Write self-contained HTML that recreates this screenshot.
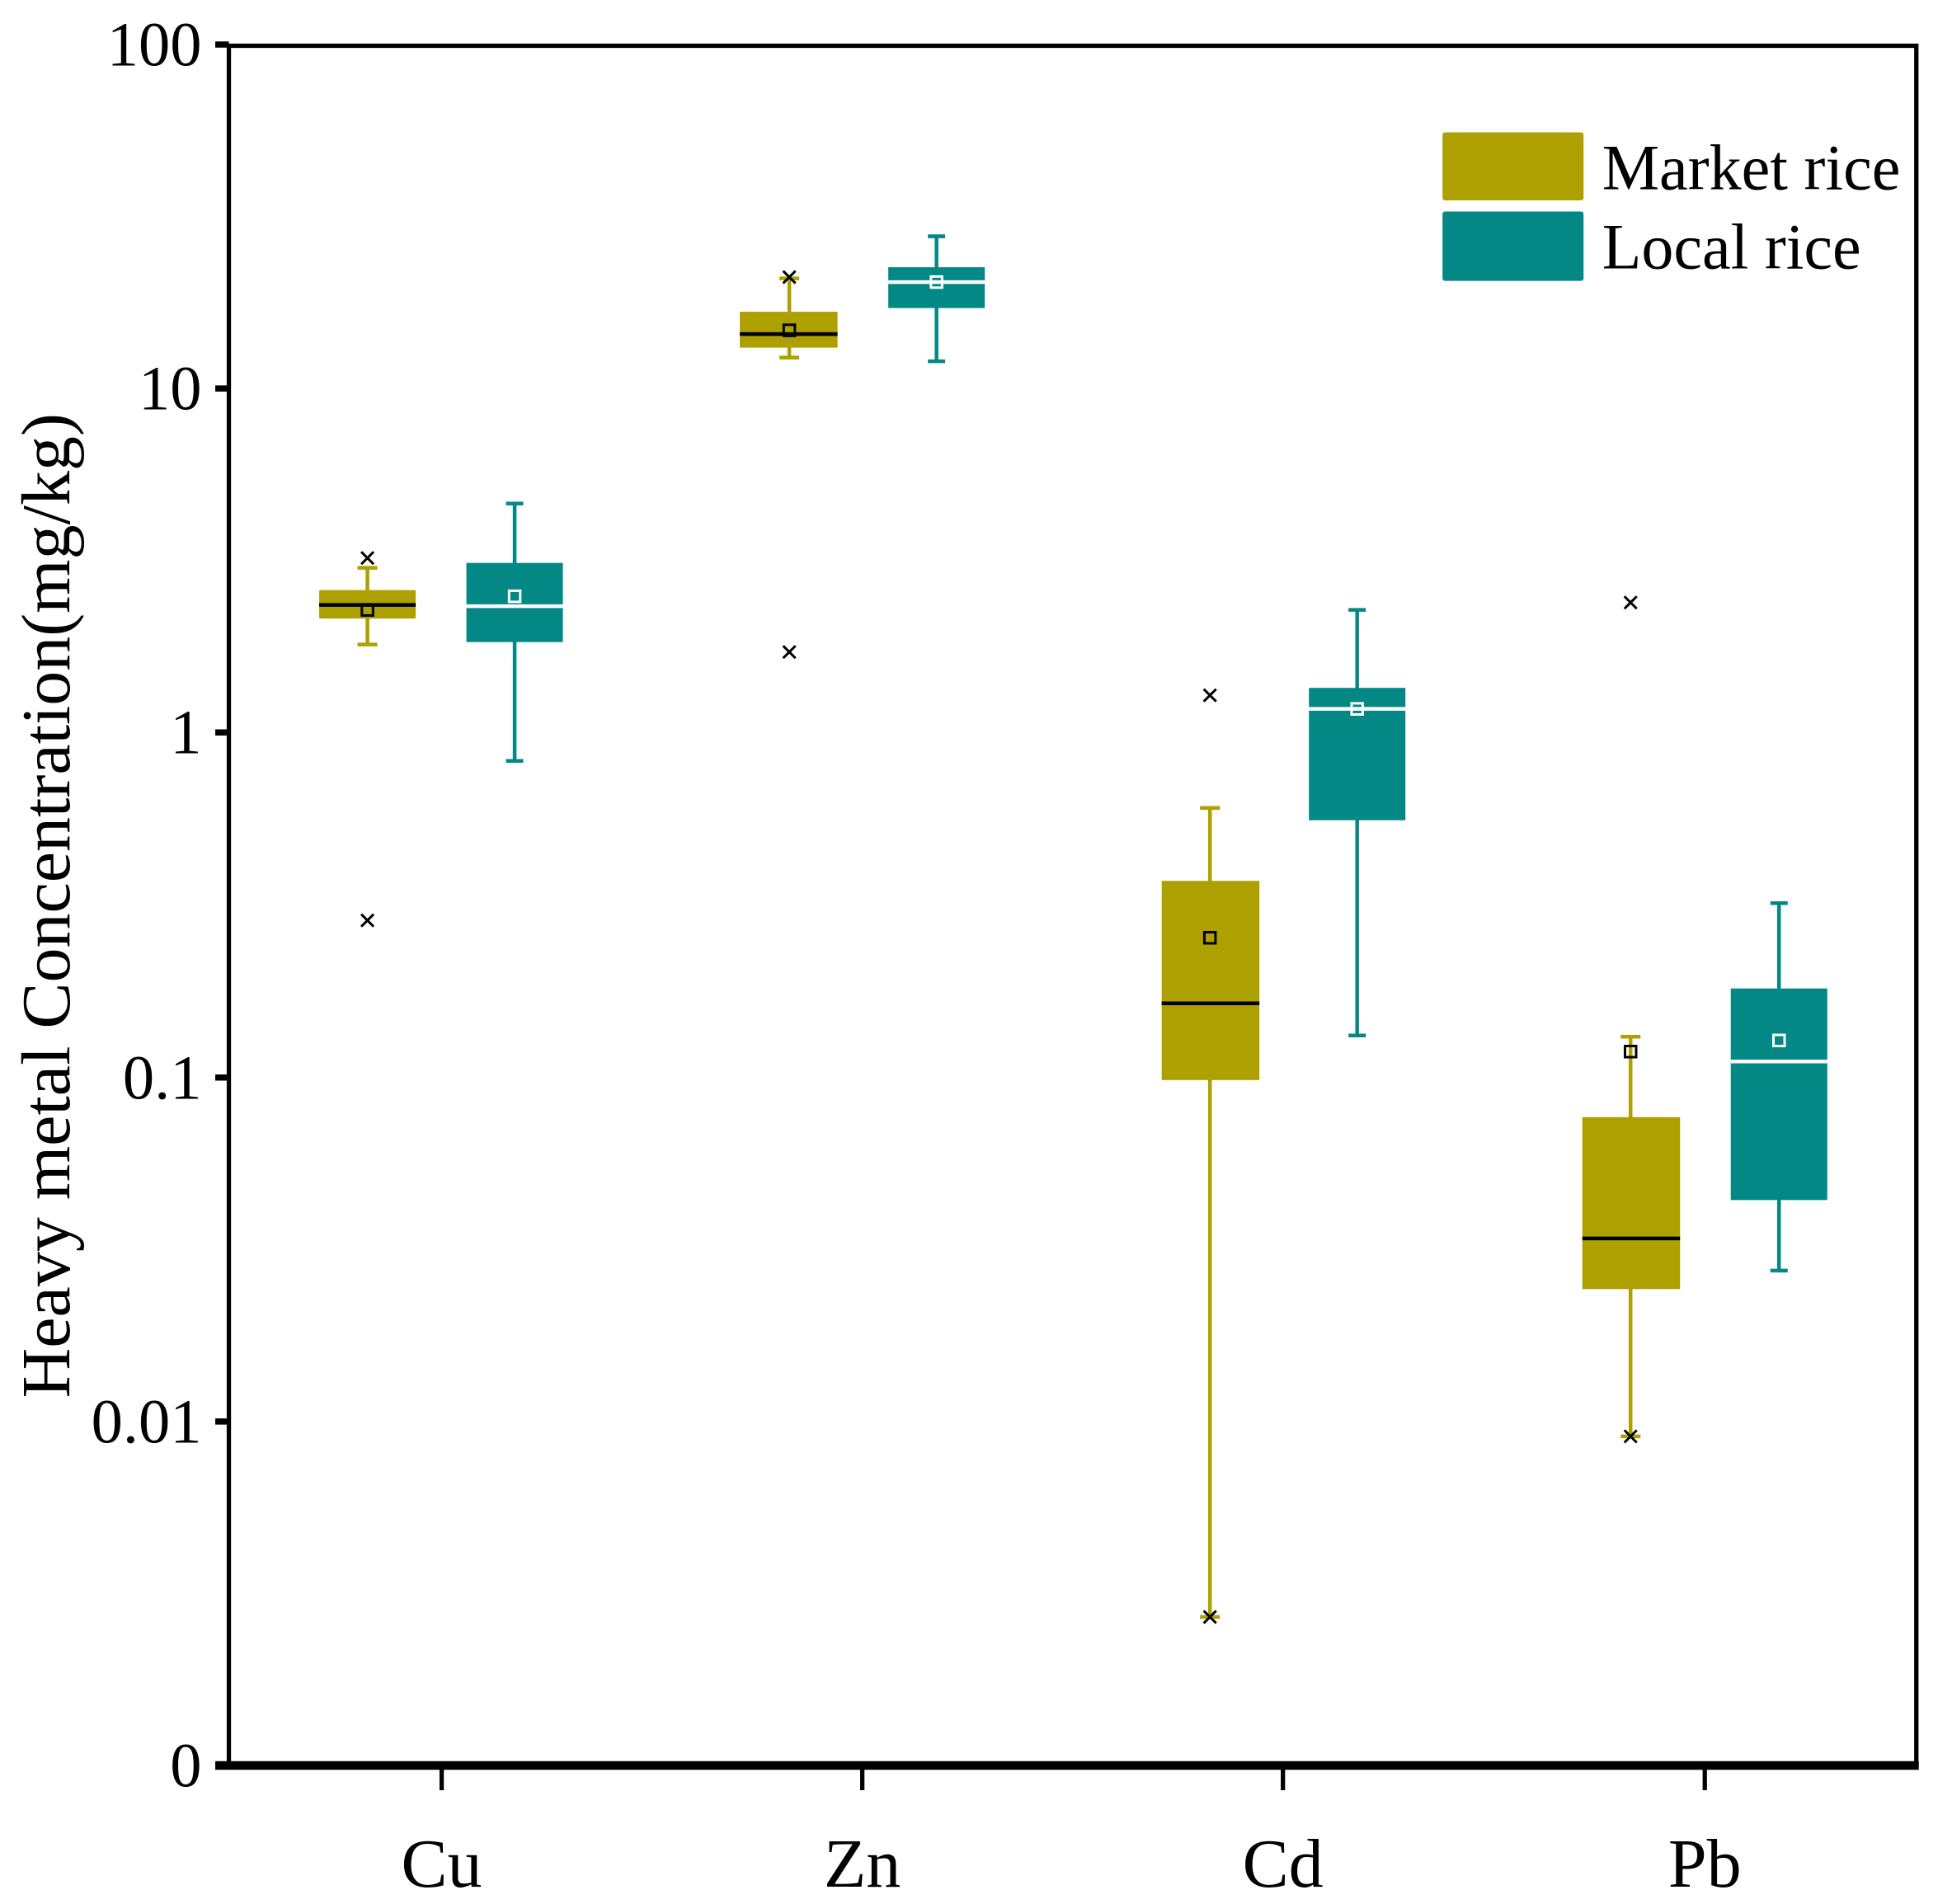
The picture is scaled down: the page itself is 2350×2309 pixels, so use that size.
<!DOCTYPE html>
<html><head><meta charset="utf-8"><style>html,body{margin:0;padding:0;background:#fff}svg{display:block}</style></head>
<body>
<svg width="2350" height="2309" viewBox="0 0 1566.5 1539" preserveAspectRatio="none" xmlns="http://www.w3.org/2000/svg" font-family="Liberation Serif, serif">
<rect width="1567" height="1540" fill="#fff"/>
<!-- frame -->
<rect x="185" y="37" width="1364" height="1389" fill="none" stroke="#000" stroke-width="3.5"/>
<line x1="174" y1="1427" x2="1551" y2="1427" stroke="#000" stroke-width="7"/>
<line x1="174" y1="36" x2="185" y2="36" stroke="#000" stroke-width="5"/>
<g stroke="#000" stroke-width="5">
<line x1="174" y1="314" x2="185" y2="314"/><line x1="174" y1="592" x2="185" y2="592"/>
<line x1="174" y1="871" x2="185" y2="871"/><line x1="174" y1="1149" x2="185" y2="1149"/>
</g>
<g stroke="#000" stroke-width="3.5">
<line x1="357" y1="1427" x2="357" y2="1447"/><line x1="697" y1="1427" x2="697" y2="1447"/>
<line x1="1037" y1="1427" x2="1037" y2="1447"/><line x1="1378" y1="1427" x2="1378" y2="1447"/>
</g>
<g font-size="51" text-anchor="end" fill="#000">
<text x="163" y="53">100</text><text x="163" y="331">10</text><text x="163" y="609">1</text>
<text x="163" y="888">0.1</text><text x="163" y="1166">0.01</text><text x="163" y="1444">0</text>
</g>
<g font-size="56" text-anchor="middle" fill="#000">
<text x="357" y="1525">Cu</text><text x="697" y="1525">Zn</text><text x="1037" y="1525">Cd</text><text x="1378" y="1525">Pb</text>
</g>
<text transform="translate(56,732) rotate(-90)" font-size="56" text-anchor="middle">Heavy metal Concentration(mg/kg)</text>
<!-- legend -->
<rect x="1166" y="107" width="114" height="55" rx="2" fill="#ADA000"/>
<rect x="1166" y="171" width="114" height="56" rx="2" fill="#038886"/>
<text x="1295" y="153" font-size="52">Market rice</text>
<text x="1295" y="217" font-size="52">Local rice</text>

<!-- market boxes -->
<g stroke="#ADA000" stroke-width="3" fill="none">
<line x1="297" y1="459" x2="297" y2="521"/><line x1="289" y1="459" x2="305" y2="459"/><line x1="289" y1="521" x2="305" y2="521"/>
<line x1="638" y1="225" x2="638" y2="289"/><line x1="630" y1="225" x2="646" y2="225"/><line x1="630" y1="289" x2="646" y2="289"/>
<line x1="978" y1="653" x2="978" y2="1307"/><line x1="970" y1="653" x2="986" y2="653"/><line x1="970" y1="1307" x2="986" y2="1307"/>
<line x1="1318" y1="838" x2="1318" y2="1161"/><line x1="1310" y1="838" x2="1326" y2="838"/><line x1="1310" y1="1161" x2="1326" y2="1161"/>
</g>
<g fill="#ADA000">
<rect x="258" y="477" width="78" height="23" rx="1"/>
<rect x="598" y="252" width="79" height="29"/>
<rect x="939" y="712" width="79" height="161"/>
<rect x="1279" y="903" width="79" height="139"/>
</g>
<g stroke="#000" stroke-width="3">
<line x1="258" y1="489" x2="336" y2="489"/><line x1="598" y1="270" x2="677" y2="270"/>
<line x1="939" y1="811" x2="1018" y2="811"/><line x1="1279" y1="1001" x2="1358" y2="1001"/>
</g>
<g stroke="#000" stroke-width="2" fill="none">
<rect x="292.5" y="488.5" width="9" height="9"/><rect x="633.5" y="262.5" width="9" height="9"/>
<rect x="973.5" y="753.5" width="9" height="9"/><rect x="1313.5" y="845.5" width="9" height="9"/>
</g>
<!-- local boxes -->
<g stroke="#038886" stroke-width="3" fill="none">
<line x1="416" y1="407" x2="416" y2="615"/><line x1="409" y1="407" x2="423" y2="407"/><line x1="409" y1="615" x2="423" y2="615"/>
<line x1="757" y1="191" x2="757" y2="292"/><line x1="750" y1="191" x2="764" y2="191"/><line x1="750" y1="292" x2="764" y2="292"/>
<line x1="1097" y1="493" x2="1097" y2="837"/><line x1="1090" y1="493" x2="1104" y2="493"/><line x1="1090" y1="837" x2="1104" y2="837"/>
<line x1="1438" y1="730" x2="1438" y2="1027"/><line x1="1431" y1="730" x2="1445" y2="730"/><line x1="1431" y1="1027" x2="1445" y2="1027"/>
</g>
<g fill="#038886">
<rect x="377" y="455" width="78" height="64"/>
<rect x="718" y="216" width="78" height="33"/>
<rect x="1058" y="556" width="78" height="107"/>
<rect x="1399" y="799" width="78" height="171"/>
</g>
<g stroke="#fff" stroke-width="3">
<line x1="377" y1="490" x2="455" y2="490"/><line x1="718" y1="228" x2="796" y2="228"/>
<line x1="1058" y1="573" x2="1136" y2="573"/><line x1="1399" y1="858" x2="1477" y2="858"/>
</g>
<g stroke="#fff" stroke-width="2" fill="none">
<rect x="411.5" y="477.5" width="9" height="9"/><rect x="752.5" y="223.5" width="9" height="9"/>
<rect x="1092.5" y="568.5" width="9" height="9"/><rect x="1433.5" y="836.5" width="9" height="9"/>
</g>
<!-- outliers -->
<g stroke="#000" stroke-width="2">
<path d="M292 446l10 10M302 446l-10 10"/>
<path d="M292 739l10 10M302 739l-10 10"/>
<path d="M633 219l10 10M643 219l-10 10"/>
<path d="M633 522l10 10M643 522l-10 10"/>
<path d="M973 557l10 10M983 557l-10 10"/>
<path d="M973 1302l10 10M983 1302l-10 10"/>
<path d="M1313 482l10 10M1323 482l-10 10"/>
<path d="M1313 1156l10 10M1323 1156l-10 10"/>
</g>
</svg>
</body></html>
